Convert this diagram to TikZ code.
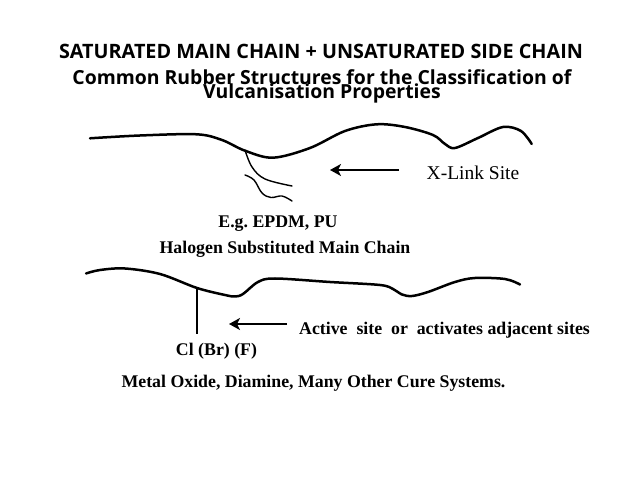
\documentclass[tikz,border=0pt]{standalone}
\usepackage{fontspec}
\setmainfont{Liberation Serif}
\newfontfamily\titlefont{Open Sans}
\usetikzlibrary{arrows.meta}
\tikzset{
  chain/.style={line width=2.5pt,line cap=round,line join=round},
  sidechain/.style={line width=1.4pt,line cap=round},
  pointer/.style={line width=2pt,-{Stealth[inset=3pt,length=11pt,width=12pt]}},
  titletext/.style={font=\titlefont\bfseries\fontsize{19.8}{19.8}\selectfont,inner sep=0pt,anchor=center},
  subtitletext/.style={font=\titlefont\bfseries\fontsize{19.4}{19.4}\selectfont,inner sep=0pt,anchor=center},
  boldlabel/.style={font=\bfseries\fontsize{17.8}{17.8}\selectfont,inner sep=0pt,anchor=center},
  plainlabel/.style={font=\fontsize{19.5}{19.5}\selectfont,inner sep=0pt,anchor=center}
}
\begin{document}
\begin{tikzpicture}[x=1pt,y=-1pt]
\useasboundingbox (0,0) rectangle (638,478);
\node[titletext] (t1) at (321,51) {SATURATED MAIN CHAIN + UNSATURATED SIDE CHAIN};
\node[subtitletext] (t2) at (322,77.5) {Common Rubber Structures for the Classification of};
\node[subtitletext] (t3) at (322,93) {Vulcanisation Properties};
% first chain
\draw[chain] plot[smooth,tension=0.55] coordinates {(90,138.3) (140,135.5) (196.7,134.3) (222,140) (245,150.7) (273,157.7) (310,148) (345,131) (376.7,124.3) (405,127) (433,135) (445,144) (455,148) (478,138) (503,127) (521,131) (531.7,144)};
\draw[sidechain] plot[smooth,tension=0.6] coordinates {(245,150) (252,167) (265,179) (292,186)};
\draw[sidechain] plot[smooth,tension=0.6] coordinates {(245,175) (254,180) (262,193) (271,197.5) (282,196) (292,201)};
\coordinate (a1s) at (399,170);
\coordinate (a1e) at (330,170);
\draw[pointer] (a1s) -- (a1e);
\node[plainlabel] (xl) at (473,173) {X-Link Site};
\node[boldlabel] (eg) at (278,223.5) {E.g.\ EPDM, PU};
\node[boldlabel] (hal) at (285,249.5) {Halogen Substituted Main Chain};
% second chain
\draw[chain] plot[smooth,tension=0.55] coordinates {(86,273.5) (100,270) (125,268.5) (160,274) (197,288) (225,295) (235,296.5) (243,294) (258,282) (275,278.5) (330,282) (380,285) (393,289) (402,294.5) (412,296) (428,292) (455,282) (475,278) (505,279) (520,284.5)};
\coordinate (st) at (197,288);
\coordinate (sb) at (197,334);
\draw[line width=1.6pt] (st) -- (sb);
\coordinate (a2s) at (287,324);
\coordinate (a2e) at (229,324);
\draw[pointer] (a2s) -- (a2e);
\node[boldlabel] (act) at (444.5,330) {Active\ \ site\ \ or\ \ activates adjacent sites};
\node[boldlabel] (cl) at (216.5,351) {Cl (Br) (F)};
\node[boldlabel] (metal) at (313.5,383) {Metal Oxide, Diamine, Many Other Cure Systems.};
\end{tikzpicture}
\end{document}
